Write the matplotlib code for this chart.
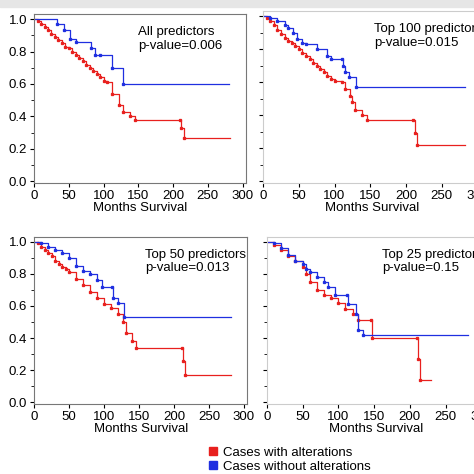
import matplotlib
matplotlib.use("Agg")
import matplotlib.pyplot as plt
from matplotlib.lines import Line2D

plt.rcParams['font.family'] = ['Liberation Sans', 'DejaVu Sans']

RED = "#e8201e"
BLUE = "#1f2fe0"

titles = ["All predictors\np-value=0.006", "Top 100 predictors\np-value=0.015",
          "Top 50 predictors\np-value=0.013", "Top 25 predictors\np-value=0.15"]

# Kaplan-Meier steps (months, survival)
red_t = [
    [0, 5, 10, 15, 20, 25, 30, 35, 40, 45, 50, 55, 60, 65, 70, 75, 80, 85, 90, 95, 100, 105, 112, 122, 128, 138, 145, 210, 212, 216, 282],
    [0, 5, 10, 15, 20, 25, 30, 35, 40, 45, 50, 55, 60, 65, 70, 75, 80, 85, 90, 95, 100, 110, 115, 122, 125, 128, 138, 145, 210, 212, 215, 282],
    [0, 5, 10, 15, 20, 25, 30, 35, 40, 45, 50, 60, 70, 80, 90, 100, 110, 120, 127, 132, 140, 145, 212, 213, 216, 282],
    [0, 10, 20, 30, 40, 50, 55, 60, 70, 80, 90, 100, 110, 120, 128, 145, 147, 210, 211, 214, 230],
]
red_s = [
    [1.0, 0.99, 0.97, 0.95, 0.93, 0.91, 0.89, 0.87, 0.85, 0.83, 0.82, 0.80, 0.78, 0.76, 0.74, 0.72, 0.70, 0.68, 0.66, 0.64, 0.62, 0.61, 0.54, 0.47, 0.43, 0.40, 0.38, 0.38, 0.33, 0.27, 0.27],
    [1.0, 0.99, 0.97, 0.95, 0.92, 0.89, 0.87, 0.85, 0.84, 0.82, 0.80, 0.78, 0.76, 0.74, 0.72, 0.70, 0.68, 0.66, 0.64, 0.62, 0.61, 0.60, 0.56, 0.52, 0.48, 0.43, 0.40, 0.37, 0.37, 0.29, 0.22, 0.22],
    [1.0, 0.99, 0.97, 0.95, 0.93, 0.91, 0.88, 0.86, 0.84, 0.83, 0.81, 0.77, 0.73, 0.69, 0.65, 0.61, 0.59, 0.55, 0.50, 0.43, 0.38, 0.34, 0.34, 0.26, 0.17, 0.17],
    [1.0, 0.98, 0.95, 0.91, 0.88, 0.84, 0.80, 0.75, 0.70, 0.67, 0.65, 0.62, 0.58, 0.55, 0.51, 0.51, 0.40, 0.40, 0.27, 0.14, 0.14],
]
blue_t = [
    [0, 33, 43, 52, 60, 82, 88, 95, 112, 128, 280],
    [0, 10, 20, 30, 35, 42, 48, 55, 60, 75, 90, 95, 110, 112, 115, 120, 130, 282],
    [0, 10, 20, 30, 40, 50, 60, 70, 80, 90, 97, 112, 113, 120, 128, 282],
    [0, 10, 20, 30, 40, 50, 55, 60, 70, 80, 85, 95, 112, 113, 125, 128, 135, 282],
]
blue_s = [
    [1.0, 0.97, 0.93, 0.88, 0.86, 0.82, 0.78, 0.78, 0.70, 0.60, 0.60],
    [1.0, 0.99, 0.97, 0.95, 0.93, 0.90, 0.86, 0.84, 0.83, 0.80, 0.76, 0.74, 0.74, 0.70, 0.66, 0.63, 0.57, 0.57],
    [1.0, 0.99, 0.97, 0.95, 0.93, 0.90, 0.85, 0.82, 0.80, 0.76, 0.72, 0.72, 0.65, 0.62, 0.53, 0.53],
    [1.0, 0.99, 0.96, 0.92, 0.88, 0.86, 0.83, 0.81, 0.78, 0.75, 0.72, 0.67, 0.67, 0.61, 0.55, 0.45, 0.42, 0.42],
]

# axes rectangles in figure fraction (left, bottom, width, height)
rects = [(0.072, 0.614, 0.447, 0.356), (0.555, 0.614, 0.46, 0.362),
         (0.072, 0.148, 0.45, 0.352), (0.563, 0.148, 0.46, 0.352)]
title_x = [0.49, 0.51, 0.52, 0.53]

fig = plt.figure(figsize=(4.74, 4.74), dpi=100)
fig.patch.set_facecolor("white")
fig.add_artist(plt.Rectangle((0, 0.985), 1, 0.015, color="#e6e6e6", transform=fig.transFigure))

for i in range(4):
    ax = fig.add_axes(rects[i])
    ax.step(red_t[i], red_s[i], where="post", color=RED, lw=0.9)
    ax.plot(red_t[i][1:-1], red_s[i][1:-1], "s", color=RED, ms=1.4)
    ax.step(blue_t[i], blue_s[i], where="post", color=BLUE, lw=0.9)
    ax.plot(blue_t[i][1:-1], blue_s[i][1:-1], "s", color=BLUE, ms=1.4)
    ax.set_xlim(0, 305)
    ax.set_ylim(-0.01, 1.03)
    ax.set_xticks([0, 50, 100, 150, 200, 250, 300])
    ax.set_yticks([0.0, 0.2, 0.4, 0.6, 0.8, 1.0])
    ax.set_yticks([0.1, 0.3, 0.5, 0.7, 0.9], minor=True)
    ax.tick_params(labelsize=9.5, length=3, pad=2)
    ax.set_xlabel("Months Survival", fontsize=9.5, labelpad=0)
    ax.text(title_x[i], 0.93, titles[i], transform=ax.transAxes,
            fontsize=9.5, va="top", ha="left")
    if i % 2 == 0:
        ax.set_yticklabels(["0.0", "0.2", "0.4", "0.6", "0.8", "1.0"])
        ax.set_ylabel("Surviving", fontsize=9.5, labelpad=12)
        for s in ax.spines.values():
            s.set_color("#777777")
    else:
        ax.set_yticklabels([])
        for s in ax.spines.values():
            s.set_color("#cccccc")

handles = [Line2D([], [], ls="", marker="s", color=RED, ms=6),
           Line2D([], [], ls="", marker="s", color=BLUE, ms=6)]
fig.legend(handles, ["Cases with alterations", "Cases without alterations"],
           loc="lower left", bbox_to_anchor=(0.41, -0.022), frameon=False,
           fontsize=9.5, handletextpad=0.3, labelspacing=0.1, handlelength=1)

fig.savefig("out.png", dpi=100)
